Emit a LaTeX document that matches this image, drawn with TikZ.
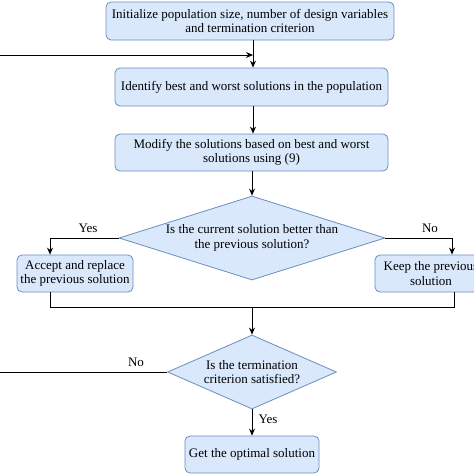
\documentclass[tikz,border=0pt]{standalone}
\usepackage{fontspec}
\setmainfont{Liberation Serif}
\usetikzlibrary{shapes.geometric,arrows.meta}
\definecolor{boxfill}{HTML}{DAE8FC}
\definecolor{boxline}{HTML}{6C8EBF}
\begin{document}
\begin{tikzpicture}[x=1pt,y=-1pt,
  box/.style={draw=boxline, fill=boxfill, rounded corners=5pt, line width=0.8pt,
    align=center, font=\fontsize{13}{14.5}\selectfont, inner sep=0pt},
  dec/.style={diamond, draw=boxline, fill=boxfill, line width=0.8pt, align=center,
    font=\fontsize{13}{14.5}\selectfont, inner sep=0pt},
  arr/.style={-{Stealth[length=7pt,width=6pt]}, line width=1pt},
  ln/.style={line width=1pt},
  lbl/.style={font=\fontsize{13}{14}\selectfont, inner sep=0pt}]
\useasboundingbox (0,0) rectangle (474,474);
\clip (0,0) rectangle (474,474);
\node[box, minimum width=288pt, minimum height=38pt] (b1) at (250,21)
  {Initialize population size, number of design variables\\and termination criterion};
\node[box, minimum width=273pt, minimum height=38pt] (b2) at (251.5,87)
  {Identify best and worst solutions in the population};
\node[box, minimum width=273pt, minimum height=37pt] (b3) at (251.5,152.5)
  {Modify the solutions based on best and worst\\solutions using (9)};
\node[dec, aspect=3.17, minimum width=266pt, minimum height=84pt] (d1) at (252,238)
  {Is the current solution better than\\the previous solution?};
\node[box, minimum width=116pt, minimum height=37pt] (b4) at (75,273.5)
  {Accept and replace\\the previous solution};
\node[box, minimum width=112pt, minimum height=37pt] (b5) at (431,273.5)
  {Keep the previous\\solution};
\node[dec, aspect=2.28, minimum width=169pt, minimum height=74pt] (d2) at (252,372)
  {Is the termination\\criterion satisfied?};
\node[box, minimum width=134pt, minimum height=37pt] (b6) at (252,454.5)
  {Get the optimal solution};

\coordinate (j1) at (253,55);
\coordinate (fa) at (-10,55);
\coordinate (fb) at (-10,372);
\coordinate (m) at (252,307);

\draw[arr] (b1.south -| j1) -- (b2.north -| j1);
\draw[arr] (b2.south -| j1) -- (b3.north -| j1);
\draw[arr] (b3.south -| d1.north) -- (d1.north);
\draw[arr] (d1.west) -| ([xshift=-25pt]b4.north);
\draw[arr] (d1.east) -| ([xshift=21pt]b5.north);
\draw[ln] ([xshift=-25pt]b4.south) |- (m);
\draw[ln] ([xshift=23pt]b5.south) |- (m);
\draw[arr] (m) -- (d2.north);
\draw[arr] (d2.south) -- (b6.north);
\draw[arr] (d2.west) -- (fb) -- (fa) -- (j1);

\node[lbl] (y1) at (88,228) {Yes};
\node[lbl] (n1) at (430,228) {No};
\node[lbl] (n2) at (136,362) {No};
\node[lbl] (y2) at (268,419) {Yes};
\end{tikzpicture}
\end{document}
